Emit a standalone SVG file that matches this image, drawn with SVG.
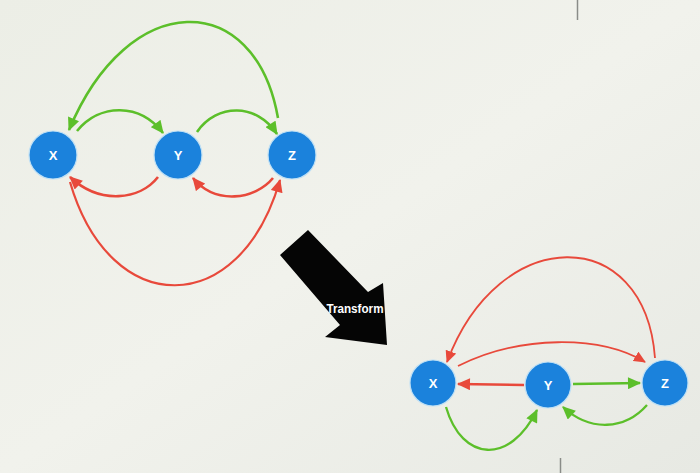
<svg xmlns="http://www.w3.org/2000/svg" width="700" height="473" viewBox="0 0 700 473">
  <defs>
    <linearGradient id="bg" x1="0" y1="0" x2="1" y2="1">
      <stop offset="0" stop-color="#eceee6"/>
      <stop offset="0.5" stop-color="#f1f2ec"/>
      <stop offset="1" stop-color="#e7e9e3"/>
    </linearGradient>
    <marker id="ag" viewBox="0 0 12 11" refX="11" refY="5.5" markerWidth="14" markerHeight="12" markerUnits="userSpaceOnUse" orient="auto">
      <path d="M0,0 L12,5.5 L0,11 z" fill="#5cbf2a"/>
    </marker>
    <marker id="ar" viewBox="0 0 12 11" refX="11" refY="5.5" markerWidth="14" markerHeight="12" markerUnits="userSpaceOnUse" orient="auto">
      <path d="M0,0 L12,5.5 L0,11 z" fill="#e8493b"/>
    </marker>
    <marker id="ar2" viewBox="0 0 12 11" refX="11" refY="5.5" markerWidth="12" markerHeight="11" markerUnits="userSpaceOnUse" orient="auto">
      <path d="M0,0 L12,5.5 L0,11 z" fill="#e8493b"/>
    </marker>
  </defs>
  <style>
    .node circle { fill: #1b82dc; stroke: #bfe0f5; stroke-width: 1.2; }
    .node text { fill: #ffffff; font-family: "Liberation Sans", Arial, sans-serif; font-size: 13px; font-weight: bold; text-anchor: middle; dominant-baseline: central; }
    .g { fill: none; stroke: #5cbf2a; stroke-width: 2.6; marker-end: url(#ag); }
    .r { fill: none; stroke: #e8493b; stroke-width: 2.6; marker-end: url(#ar); }
    .rt { fill: none; stroke: #e8493b; stroke-width: 1.8; marker-end: url(#ar2); }
    .g2 { fill: none; stroke: #5cbf2a; stroke-width: 2.3; marker-end: url(#ag); }
  </style>
  <rect x="0" y="0" width="700" height="473" fill="url(#bg)"/>
  <line x1="577.5" y1="0" x2="577.5" y2="20" stroke="#8a8c88" stroke-width="1.5"/>
  <line x1="560.5" y1="458" x2="560.5" y2="473" stroke="#8a8c88" stroke-width="1.5"/>

  <g id="connectors">
    <path class="g" d="M278,118 C255,-12 128,-12 69,130"/>
    <path class="g" d="M77,131 C100,103 140,103 163,133"/>
    <path class="g" d="M197,132 C217,103 257,103 277,134"/>
    <path class="r" d="M158,177 C140,200 100,205 70,177"/>
    <path class="r" d="M273,178 C255,200 215,205 193,178"/>
    <path class="r" d="M70,182 C110,320 240,320 280,180" style="stroke-width:2.2"/>
    <path class="rt" d="M655,358 C645,223 499,223 447,362"/>
    <path class="rt" d="M458,366 C520,335 600,335 645,362"/>
    <path class="r" d="M524,385 L458,384" style="stroke-width:2.4"/>
    <path class="g2" d="M573,384 L640,383"/>
    <path class="g2" d="M446,407 C462,462 510,465 537,410"/>
    <path class="g2" d="M647,405 C625,430 590,432 563,407"/>
  </g>

  <g id="transform">
    <polygon points="280,255 308,230 368,292 383,283 387,345 325,337 340,325" fill="#050505"/>
    <text x="355" y="313" font-family="'Liberation Sans', Arial, sans-serif" font-size="12" font-weight="bold" fill="#ffffff" text-anchor="middle" textLength="57" lengthAdjust="spacingAndGlyphs">Transform</text>
  </g>

  <g id="node-x1" class="node"><circle cx="53" cy="155" r="24"/><text x="53" y="155">X</text></g>
  <g id="node-y1" class="node"><circle cx="178" cy="155" r="24"/><text x="178" y="155">Y</text></g>
  <g id="node-z1" class="node"><circle cx="292" cy="155" r="24"/><text x="292" y="155">Z</text></g>

  <g id="node-x2" class="node"><circle cx="433" cy="383" r="23"/><text x="433" y="383">X</text></g>
  <g id="node-y2" class="node"><circle cx="548" cy="385" r="23"/><text x="548" y="385">Y</text></g>
  <g id="node-z2" class="node"><circle cx="665" cy="383" r="23"/><text x="665" y="383">Z</text></g>
</svg>
